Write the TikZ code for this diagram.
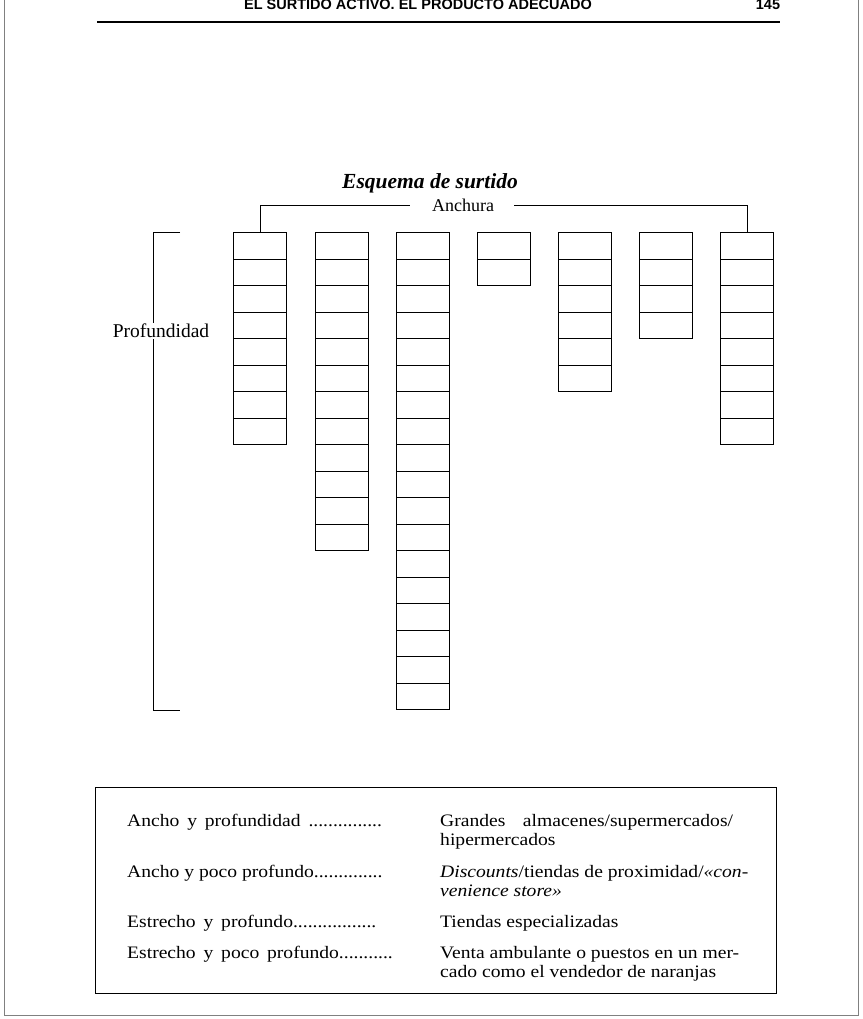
\documentclass[tikz,border=0pt]{standalone}
\usepackage{fontspec}
\setmainfont{Liberation Serif}
\newfontfamily\hdr{Liberation Sans}
\newfontfamily\tabf[FakeStretch=1.12]{Liberation Serif}
\begin{document}
\begin{tikzpicture}[x=1pt,y=-1pt,
  cellbox/.style={draw,line width=1pt,minimum width=53pt,minimum height=26.5pt,anchor=north west,inner sep=0pt},
  txt/.style={anchor=base west,inner sep=0pt,font=\tabf\fontsize{17.5}{18}\selectfont}]
\useasboundingbox (0,0) rectangle (862,1019);
\draw[gray,line width=1pt] (4,0) -- (4,1015) -- (858,1015) -- (858,0);
\node[font=\hdr\bfseries\fontsize{14.5}{15}\selectfont,inner sep=0pt] (hd) at (418,5) {EL SURTIDO ACTIVO. EL PRODUCTO ADECUADO};
\node[font=\hdr\bfseries\fontsize{14.5}{15}\selectfont,inner sep=0pt] (pg) at (768,5) {145};
\coordinate (hl1) at (97,22); \coordinate (hl2) at (780,22);
\draw[line width=1.4pt] (hl1) -- (hl2);
\node[font=\bfseries\itshape\fontsize{21.5}{23}\selectfont] (title) at (430,183) {Esquema de surtido};
\foreach \x/\n [count=\c] in {233/8,315/12,396/18,477/2,558/6,639/4,720/8}{
  \foreach \r in {1,...,\n}{
    \node[cellbox] (c\c-\r) at (\x,{232+(\r-1)*26.5}) {};
  }
}
\node[font=\fontsize{18}{19}\selectfont,inner sep=2pt] (anch) at (463,205) {Anchura};
\draw[line width=1pt] (anch.west) ++(-20,0) -| (c1-1.north);
\draw[line width=1pt] (anch.east) ++(18,0) -| (c7-1.north);
\coordinate (bt) at (180,232); \coordinate (bb) at (180,710);
\draw[line width=1pt] (bt) -- ++(-27,0) |- (bb);
\node[fill=white,font=\fontsize{19.5}{21}\selectfont,inner sep=1pt] (prof) at (161,331) {Profundidad};
\node[draw,line width=1.2pt,minimum width=681pt,minimum height=206pt,anchor=north west] (tab) at (95,787) {};
\node[txt] (l1) at (127,826) {Ancho\, y\, profundidad\, ...............};
\node[txt] (l2) at (127,877) {Ancho y poco profundo..............};
\node[txt] (l3) at (127,927) {Estrecho\, y\, profundo.................};
\node[txt] (l4) at (127,958) {Estrecho\, y\, poco\, profundo...........};
\node[txt] (r1) at (440,826) {Grandes\quad almacenes/supermercados/};
\node[txt] (r1b) at (440,845) {hipermercados};
\node[txt] (r2) at (440,877) {\textit{Discounts}/tiendas de proximidad/\textit{«con-}};
\node[txt] (r2b) at (440,896) {\textit{venience store»}};
\node[txt] (r3) at (440,927) {Tiendas especializadas};
\node[txt] (r4) at (440,958) {Venta ambulante o puestos en un mer-};
\node[txt] (r4b) at (440,977) {cado como el vendedor de naranjas};
\end{tikzpicture}
\end{document}
